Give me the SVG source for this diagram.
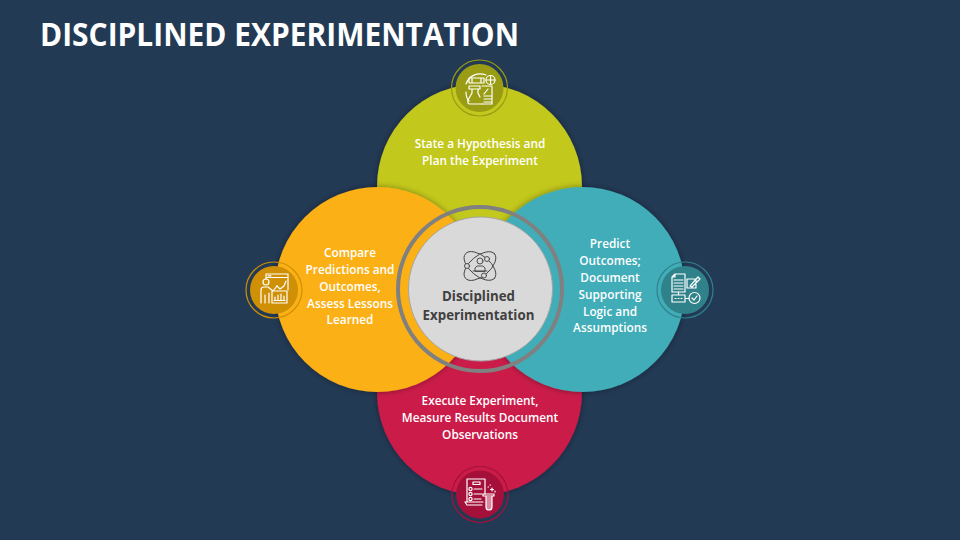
<svg xmlns="http://www.w3.org/2000/svg" width="960" height="540" viewBox="0 0 960 540">
<style>
text{font-family:"Open Sans","Liberation Sans",sans-serif}
.t{font-size:11.8px;font-weight:600;fill:#fff;text-anchor:middle}
.c{font-size:13.3px;font-weight:700;fill:#404040;text-anchor:middle}
.i{fill:none;stroke:#fff;stroke-width:1.2;stroke-linejoin:round;stroke-linecap:round}
.d{fill:none;stroke:#404040;stroke-width:.9;stroke-linecap:round;stroke-linejoin:round}
.r{fill:none;stroke-width:1.2}
</style>
<defs><filter id="s" x="-20%" y="-20%" width="140%" height="140%"><feDropShadow dx="0" dy="0" stdDeviation="3" flood-color="#000" flood-opacity=".4"/></filter></defs>
<rect width="960" height="540" fill="#233a55"/>
<text x="40" y="46" font-size="31.500" font-weight="700" fill="#fff" textLength="479" lengthAdjust="spacingAndGlyphs">DISCIPLINED EXPERIMENTATION</text>
<g id="connectors"/>
<g id="node-top">
<circle cx="479.500" cy="186.500" r="102.500" fill="#c3c81e" filter="url(#s)"/>
<text class="t"><tspan x="480" y="148">State a Hypothesis and</tspan><tspan x="480" y="165">Plan the Experiment</tspan></text>
</g>
<g id="node-bottom">
<circle cx="479.500" cy="392.500" r="102.500" fill="#cb1a49" filter="url(#s)"/>
<text class="t"><tspan x="480" y="405">Execute Experiment,</tspan><tspan x="480" y="422">Measure Results Document</tspan><tspan x="480" y="439">Observations</tspan></text>
</g>
<g id="node-right">
<circle cx="582.500" cy="289.500" r="102.500" fill="#3fadb8" filter="url(#s)"/>
<text class="t"><tspan x="610" y="248">Predict</tspan><tspan x="610" y="265">Outcomes;</tspan><tspan x="610" y="282">Document</tspan><tspan x="610" y="299">Supporting</tspan><tspan x="610" y="316">Logic and</tspan><tspan x="610" y="332">Assumptions</tspan></text>
</g>
<g id="node-left">
<circle cx="377.500" cy="289.500" r="102.500" fill="#fbb016" filter="url(#s)"/>
<text class="t"><tspan x="350" y="257">Compare</tspan><tspan x="350" y="274">Predictions and</tspan><tspan x="350" y="291">Outcomes,</tspan><tspan x="350" y="308">Assess Lessons</tspan><tspan x="350" y="324">Learned</tspan></text>
</g>
<g id="node-center">
<circle cx="480" cy="289" r="82" fill="none" stroke="#808080" stroke-width="4"/>
<circle cx="480.500" cy="289" r="72" fill="#d9d9d9" stroke="#a6a6a6" stroke-width="1"/>
<g class="d">
<ellipse cx="480" cy="266" rx="19" ry="10" transform="rotate(40 480 266)"/>
<ellipse cx="480" cy="266" rx="19" ry="10" transform="rotate(-40 480 266)"/>
<circle cx="480" cy="261" r="3"/><path d="M475 271v-3l2-2h6l2 2v3zM473 271h14"/>
<circle cx="487" cy="259" r="2.500" fill="#d9d9d9"/><circle cx="467" cy="266" r="2.500" fill="#d9d9d9"/><circle cx="484" cy="275.500" r="2.500" fill="#d9d9d9"/>
</g>
<text class="c"><tspan x="478.500" y="301">Disciplined</tspan><tspan x="478.500" y="320">Experimentation</tspan></text>
</g>
<g id="badge-top">
<circle cx="479.500" cy="88" r="28" class="r" stroke="#9a9c14"/>
<circle cx="479.500" cy="88" r="24" fill="#9a9c14"/>
<g class="i">
<path d="M466 84a15 15 0 0 1 20 -9M466 92q0 6 3 9"/>
<path d="M469 78l15 0v5h-15zM472 78v5M481 78v5"/>
<path d="M469 86h11v3h-11zM472 89v4l-4 7q-1 4 2 4h12M478 89v4l2 4"/>
<circle cx="490.500" cy="80" r="4.500" fill="#9a9c14"/><path d="M486 80h9M490.500 75.500v9"/>
<path d="M482 86h10v18h-10M484 94l4-5M484 96h7M484 99h7M484 102h7"/>
</g>
</g>
<g id="badge-right">
<circle cx="685" cy="290" r="28" class="r" stroke="#2f8289"/>
<circle cx="685" cy="290" r="24" fill="#2f8289"/>
<g class="i">
<path d="M675 274h10v18h-13v-15zM675 274v3h-3M674 280h9M674 283h9M674 286h9M674 289h9"/>
<path d="M687 279h9v9h-9zM690 286l8-9 2 2-8 8z"/>
<path d="M678.500 292v3M672 295h13v7h-13zM675 298.500h1M678 298.500h1M681 298.500h1M685 298.500h4"/>
<circle cx="694.500" cy="298" r="5.500"/><path d="M692 298l2 2 3-4"/>
</g>
</g>
<g id="badge-bottom">
<circle cx="480" cy="494.500" r="28" class="r" stroke="#a5103a"/>
<circle cx="480" cy="494.500" r="24" fill="#a5103a"/>
<g class="i">
<path d="M467 479h18v15M467 479v23M465 502h18M468 505h14M465 502l2 3"/>
<path d="M473 482h7v2.500h-7z"/>
<circle cx="470.500" cy="489" r="1.600"/><circle cx="470.500" cy="494" r="1.600"/><circle cx="470.500" cy="499" r="1.600"/>
<path d="M474 489h8M474 494h8M474 499h7"/>
<path d="M483 494h11v2h-11z"/><path d="M486 496v11a3 3 0 0 0 6 0v-11" fill="#d98aa0"/>
<path d="M492 488v3M490.500 489.500h3M495 491v1M488 487h.5M490 485h.5"/>
</g>
</g>
<g id="badge-left">
<circle cx="274" cy="290" r="28" class="r" stroke="#cf9006"/>
<circle cx="274" cy="290" r="24" fill="#cf9006"/>
<g class="i">
<path d="M266 274h22v16M266 274v5M266 277.500h22M268 275.800h3"/>
<circle cx="266" cy="282" r="3"/>
<path d="M261 303v-13q0-3 3-3h4l5 4 4-5M265 303v-8M269 303v-10"/>
<path d="M277 286l3 3 4-3 2-5"/>
<path d="M272 291h15v12h-15z" fill="#cf9006"/><path d="M275 300v-3M278 300v-5M281 300v-6M284 300v-4M274 300.500h11"/>
</g>
</g>
</svg>
